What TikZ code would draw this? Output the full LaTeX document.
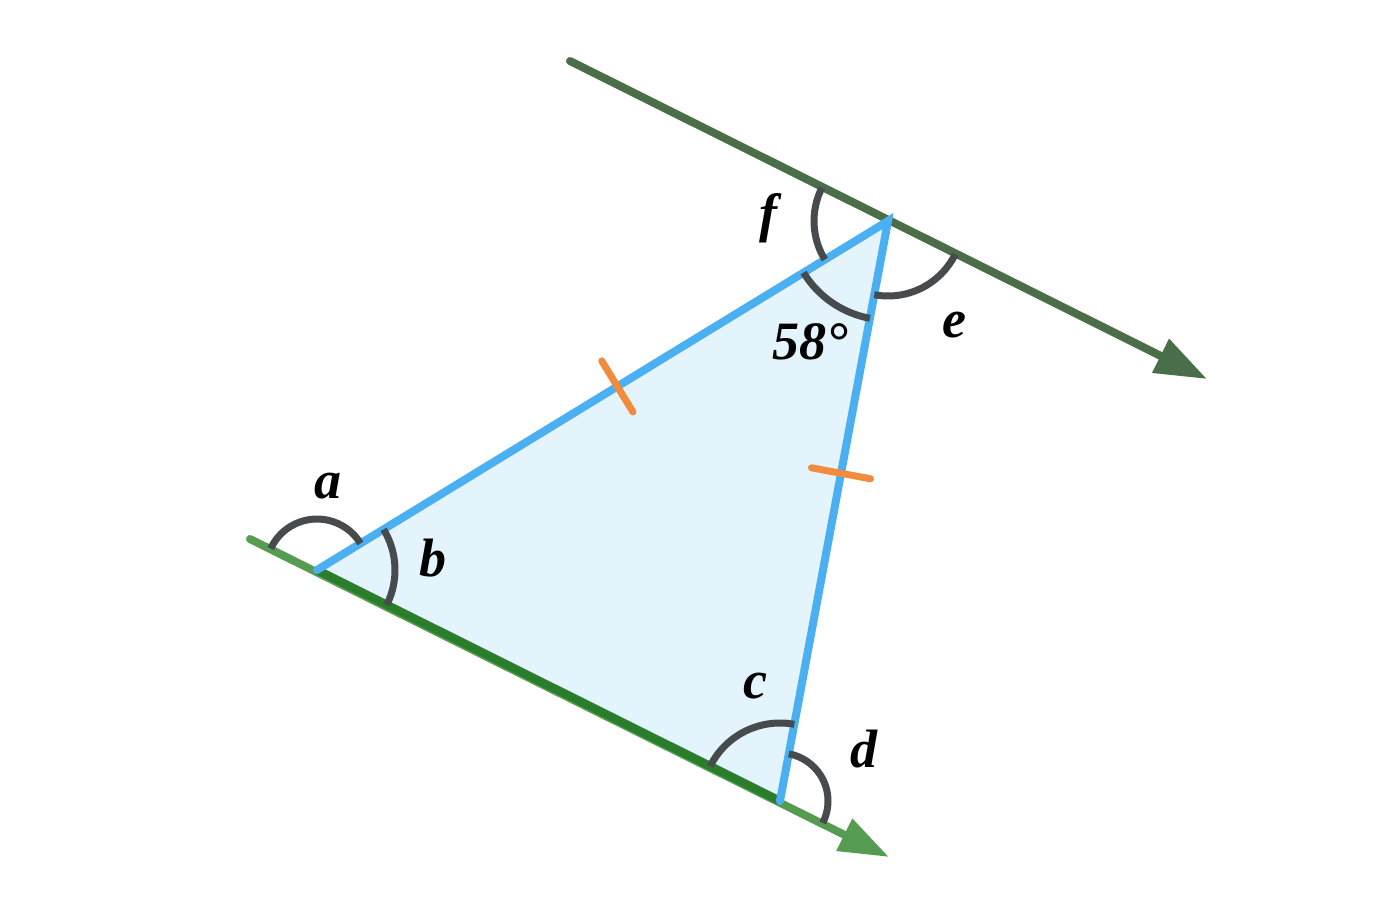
\documentclass[tikz,border=0pt]{standalone}
\usepackage{fontspec}
\setmainfont{Liberation Serif}
\usetikzlibrary{angles,calc,arrows.meta}
\definecolor{topgreen}{HTML}{4A6E48}
\definecolor{linegreen}{HTML}{559C52}
\definecolor{edgegreen}{HTML}{2A7D2A}
\definecolor{edgeblue}{HTML}{4AB0F2}
\definecolor{fillblue}{HTML}{E3F4FC}
\definecolor{arcgray}{HTML}{474B4E}
\definecolor{tickorange}{HTML}{F28C3C}
\tikzset{
  anglearc/.style={draw=arcgray, line width=7pt},
  lbl/.style={font=\fontsize{54}{58}\selectfont\bfseries\itshape, text=black, inner sep=0pt},
  tickmark/.style={draw=tickorange, line width=7pt, line cap=round},
  blueedge/.style={draw=edgeblue, line width=8pt, line cap=round},
}
\begin{document}
\begin{tikzpicture}[x=1pt,y=-1pt]
\useasboundingbox (0,0) rectangle (1400,900);
% points
\coordinate (A) at (317,570);
\coordinate (B) at (888,221);
\coordinate (C) at (780,801);
\coordinate (L1) at (250,539);
\coordinate (L2) at (889,857);
\coordinate (T1) at (570,61);
\coordinate (T2) at (1207,379);
% fill
\fill[fillblue] (A) -- (B) -- (C) -- cycle;
% lines
\draw[linegreen, line width=8pt, line cap=round, -{Triangle[length=50pt,width=34pt]}] (L1) -- (L2);
\draw[topgreen, line width=8pt, line cap=round, -{Triangle[length=52pt,width=36pt]}] (T1) -- (T2);
\draw[edgegreen, line width=8.5pt] (A) -- (C);
\draw[blueedge] (A) -- (B) -- (C);
% angle arcs
\pic[anglearc, angle radius=51pt] {angle = B--A--L1};
\pic[anglearc, angle radius=78pt] {angle = C--A--B};
\pic[anglearc, angle radius=78pt] {angle = B--C--A};
\pic[anglearc, angle radius=48pt] {angle = L2--C--B};
\pic[anglearc, angle radius=74pt] {angle = T1--B--A};
\pic[anglearc, angle radius=99pt] {angle = A--B--C};
\pic[anglearc, angle radius=75pt] {angle = C--B--T2};
% tick marks
\coordinate (M1) at ($(A)!0.526!(B)$);
\coordinate (M2) at ($(B)!0.435!(C)$);
\draw[tickmark] ($(M1)!30pt!90:(B)$) -- ($(M1)!30pt!-90:(B)$);
\draw[tickmark] ($(M2)!30pt!90:(C)$) -- ($(M2)!30pt!-90:(C)$);
% labels
\node[lbl] (la) at (328,486) {a};
\node[lbl] (lb) at (433,558) {b};
\node[lbl] (lc) at (755,686) {c};
\node[lbl] (ld) at (864,749) {d};
\node[lbl] (lf) at (768,218) {f};
\node[lbl] (le) at (954,325) {e};
\node[lbl] (l58) at (810,342) {58°};
\end{tikzpicture}
\end{document}
